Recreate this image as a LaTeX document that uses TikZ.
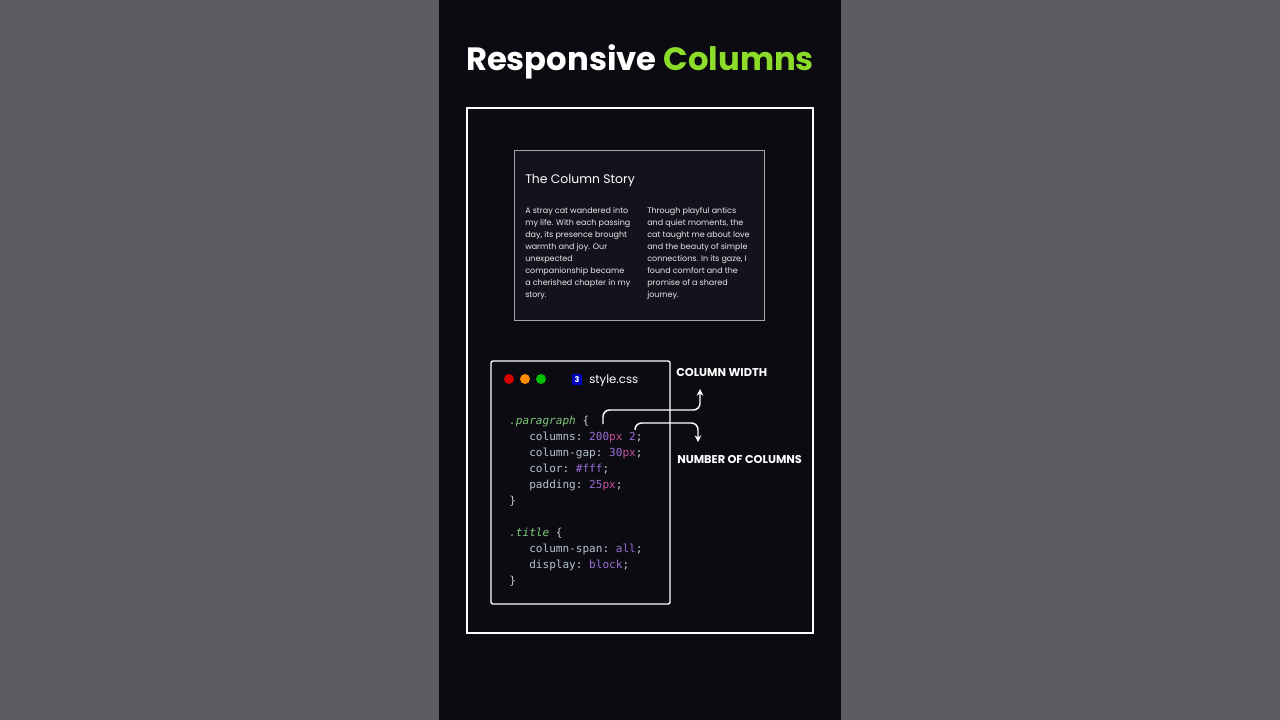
\documentclass[tikz,border=0pt]{standalone}
\usetikzlibrary{arrows.meta}
\usepackage{fontspec}
\setmainfont{Poppins}
\setmonofont{DejaVu Sans Mono}
\definecolor{bgside}{HTML}{5C5C60}
\definecolor{bgmid}{HTML}{0C0B12}
\definecolor{cardbg}{HTML}{12131C}
\definecolor{lime}{HTML}{8CDC2A}
\definecolor{sel}{HTML}{7FC97A}
\definecolor{prop}{HTML}{B4C4D4}
\definecolor{val}{HTML}{9A6FD6}
\definecolor{pxc}{HTML}{C8509C}
\definecolor{punc}{HTML}{C8C8D0}
\begin{document}
\begin{tikzpicture}[x=0.75pt,y=-0.75pt,
  body/.style={anchor=north west,inner sep=0,text=white!92!black,font=\fontsize{6}{9}\selectfont,align=left},
  code/.style={anchor=west,inner sep=0,font=\ttfamily\fontsize{8.3}{10}\selectfont,text=prop},
  lab/.style={anchor=west,inner sep=0,text=white,font=\bfseries\fontsize{8.5}{10}\selectfont},
  conn/.style={draw=white,line width=1.1pt,rounded corners=5pt,-{Stealth[length=5pt,width=5pt]}}]
\useasboundingbox (0,0) rectangle (1280,720);
\fill[bgside] (0,0) rectangle (1280,720);
\fill[bgmid] (439,0) rectangle (841,720);
\node[anchor=center,inner sep=0,font=\bfseries\fontsize{24.2}{28}\selectfont,text=white] (title) at (640,62) {Responsive \textcolor{lime}{Columns}};
\draw[white,line width=0.9pt] (467,108) rectangle (813,633);
% card
\draw[fill=cardbg,draw=white!65!black,line width=0.6pt] (514,150) rectangle (764,320);
\node[anchor=west,inner sep=0,text=white,font=\fontsize{9.3}{11}\selectfont] (ct) at (525,181) {The Column Story};
\node[body] (c1) at (525,207) {A stray cat wandered into\\my life. With each passing\\day, its presence brought\\warmth and joy. Our\\unexpected\\companionship became\\a cherished chapter in my\\story.};
\node[body] (c2) at (647,207) {Through playful antics\\and quiet moments, the\\cat taught me about love\\and the beauty of simple\\connections. In its gaze, I\\found comfort and the\\promise of a shared\\journey.};
% code box
\draw[fill=bgmid,draw=white,line width=1pt,rounded corners=1.5pt] (491,361) rectangle (670,604);
\fill[red!85!black] (509,379) circle (5);
\fill[orange!90!yellow] (525,379) circle (5);
\fill[green!75!black] (541,379) circle (5);
\fill[blue!75!black] (572,374) rectangle (582,385);
\node[inner sep=0,text=white,font=\bfseries\fontsize{6}{6}\selectfont] (ic) at (577,379.5) {3};
\node[anchor=west,inner sep=0,text=white,font=\fontsize{8.8}{10}\selectfont] (fn) at (589,381) {style.css};
\node[code] (l1) at (509,421) {\textcolor{sel}{\itshape .paragraph} \textcolor{punc}{\{}};
\node[code] (l2) at (529,437) {columns\textcolor{punc}{:} \textcolor{val}{200}\textcolor{pxc}{px} \textcolor{val}{2}\textcolor{punc}{;}};
\node[code] (l3) at (529,453) {column-gap\textcolor{punc}{:} \textcolor{val}{30}\textcolor{pxc}{px}\textcolor{punc}{;}};
\node[code] (l4) at (529,469) {color\textcolor{punc}{:} \textcolor{val}{\#fff}\textcolor{punc}{;}};
\node[code] (l5) at (529,485) {padding\textcolor{punc}{:} \textcolor{val}{25}\textcolor{pxc}{px}\textcolor{punc}{;}};
\node[code] (l6) at (509,501) {\textcolor{punc}{\}}};
\node[code] (l7) at (509,533) {\textcolor{sel}{\itshape .title} \textcolor{punc}{\{}};
\node[code] (l8) at (529,549) {column-span\textcolor{punc}{:} \textcolor{val}{all}\textcolor{punc}{;}};
\node[code] (l9) at (529,565) {display\textcolor{punc}{:} \textcolor{val}{block}\textcolor{punc}{;}};
\node[code] (l10) at (509,581) {\textcolor{punc}{\}}};
% labels
\node[lab] (cw) at (676,373) {COLUMN WIDTH};
\node[lab] (nc) at (677,460) {NUMBER OF COLUMNS};
\coordinate (s1) at (603,424);
\coordinate (s2) at (635,428);
\draw[conn] (s1) -- (603,410) -- (700,410) -- (700,389);
\draw[conn] (s2) -- (635,423) -- (698,423) -- (698,442);
\end{tikzpicture}
\end{document}
